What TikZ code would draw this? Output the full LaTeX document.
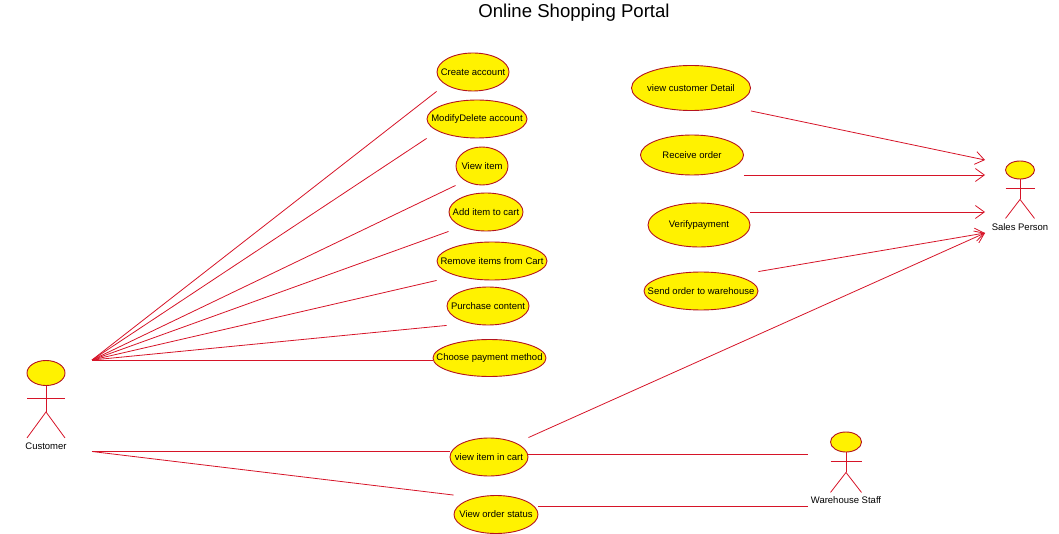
\documentclass[tikz,border=0pt]{standalone}
\usepackage{fontspec}
\setmainfont{Liberation Sans}
\usetikzlibrary{shapes.geometric,arrows.meta}
\definecolor{linered}{RGB}{214,20,40}
\definecolor{rimred}{RGB}{180,20,30}
\tikzset{
	usecase/.style={ellipse, draw=rimred, fill=yellow, line width=0.9pt, inner sep=0pt, font=\fontsize{9.5}{11}\selectfont,
		execute at begin node={\hbox to 0pt\bgroup\hss}, execute at end node={\hss\egroup}},
	actorhead/.style={ellipse, draw=rimred, fill=yellow, line width=0.9pt, inner sep=0pt},
	actorname/.style={font=\fontsize{9.5}{11}\selectfont, inner sep=0pt},
	assoc/.style={draw=linered, line width=0.8pt},
	>={Straight Barb[length=9pt,width=13pt,line width=0.8pt]}
}
% body of a stick figure below its head node
\newcommand{\stickbody}[5]{
	\draw[assoc] (#1.south) -- ++(0,#3) coordinate (#1hip);
	\draw[assoc] ([xshift=-#2pt,yshift=-#4pt]#1.south) -- ++(2*#2,0);
	\draw[assoc] ([xshift=-#2pt,yshift=-#5pt]#1hip) -- (#1hip) -- ([xshift=#2pt,yshift=-#5pt]#1hip);
}
\begin{document}
\begin{tikzpicture}[x=1pt,y=-1pt]
	\useasboundingbox (0,0) rectangle (1059,534);

	\node[font=\fontsize{18.6}{22}\selectfont] (title) at (574,13) {Online Shopping Portal};

	% left column
	\node[usecase, minimum width=72pt, minimum height=38pt] (create) at (473,72) {Create account};
	\node[usecase, minimum width=100pt, minimum height=38pt] (modify) at (477,119) {ModifyDelete account};
	\node[usecase, minimum width=52pt, minimum height=38pt] (viewitem) at (482,166) {View item};
	\node[usecase, minimum width=74pt, minimum height=38pt] (additem) at (486,212) {Add item to cart};
	\node[usecase, minimum width=110pt, minimum height=38pt] (remove) at (492,261) {Remove items from Cart};
	\node[usecase, minimum width=82pt, minimum height=38pt] (purchase) at (488,306) {Purchase content};
	\node[usecase, minimum width=113pt, minimum height=37pt] (choose) at (489.5,358) {Choose payment method};
	\node[usecase, minimum width=78pt, minimum height=38pt] (viewcart) at (489,457) {view item in cart};
	\node[usecase, minimum width=84pt, minimum height=38pt] (status) at (496,514.5) {View order status};

	% right column
	\node[usecase, minimum width=119pt, minimum height=45pt] (detail) at (691,88) {view customer Detail};
	\node[usecase, minimum width=103pt, minimum height=40pt] (receive) at (692,155) {Receive order};
	\node[usecase, minimum width=102pt, minimum height=44pt] (verify) at (699,225) {Verifypayment};
	\node[usecase, minimum width=114pt, minimum height=38pt] (send) at (701,291) {Send order to warehouse};

	% actors
	\node[actorhead, minimum width=38pt, minimum height=25pt] (customer) at (46,373) {};
	\stickbody{customer}{19}{26}{12}{26}
	\node[actorname] (customerlabel) at (46,446) {Customer};

	\node[actorhead, minimum width=29pt, minimum height=18pt] (sales) at (1020,170) {};
	\stickbody{sales}{14.5}{20}{9}{19}
	\node[actorname] (saleslabel) at (1020,227) {Sales Person};

	\node[actorhead, minimum width=31pt, minimum height=20pt] (warehouse) at (846,442) {};
	\stickbody{warehouse}{15.5}{20}{9}{20}
	\node[actorname] (warehouselabel) at (846,500) {Warehouse Staff};

	% free ends next to the actors
	\coordinate (customerA) at (92,360);
	\coordinate (customerB) at (92,451.5);
	\coordinate (salesA) at (985,160);
	\coordinate (salesB) at (985,175);
	\coordinate (salesC) at (985,212);
	\coordinate (salesD) at (985,233);
	\coordinate (warehouseA) at (808,454);
	\coordinate (warehouseB) at (808,506);
	\coordinate (verifyout) at (750,212);

	\foreach \n in {create,modify,viewitem,additem,remove,purchase}
		\draw[assoc] (customerA) -- (\n.west |- \n.south);
	\draw[assoc] (customerA) -- (choose.west |- customerA);

	\draw[assoc] (customerB) -- (viewcart.west |- customerB);
	\draw[assoc] (customerB) -- (status.west |- status.north);
	\draw[assoc] (viewcart.east |- warehouseA) -- (warehouseA);
	\draw[assoc] (status.east |- warehouseB) -- (warehouseB);

	\draw[assoc, ->] (detail.east |- detail.south) -- (salesA);
	\draw[assoc, ->] (receive.east |- salesB) -- (salesB);
	\draw[assoc, ->] (verifyout) -- (salesC);
	\draw[assoc, ->] (send.east |- send.north) -- (salesD);
	\draw[assoc, ->] (viewcart.east |- viewcart.north) -- (salesD);
\end{tikzpicture}
\end{document}
